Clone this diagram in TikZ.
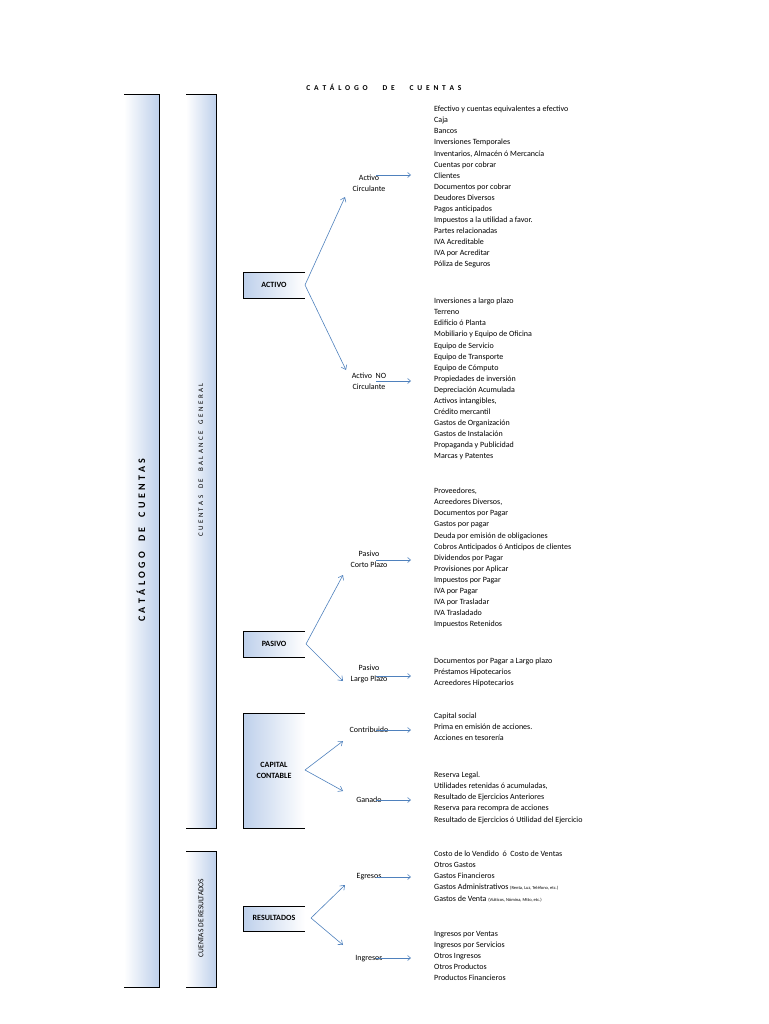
\documentclass[tikz,border=0pt]{standalone}
\usepackage{fontspec}
\setmainfont{Carlito}
\usetikzlibrary{arrows.meta}
\definecolor{bl}{RGB}{190,208,235}
\definecolor{ar}{RGB}{79,129,189}
\begin{document}
\begin{tikzpicture}[x=1pt,y=-1pt,
 lst/.style={anchor=north west,align=left,inner sep=0pt,font=\fontsize{8}{11.07}\selectfont},
 sub/.style={align=center,inner sep=1pt,font=\fontsize{8}{11}\selectfont},
 cat/.style={align=center,inner sep=0pt,font=\fontsize{8}{11}\selectfont\bfseries},
 arr/.style={draw=ar,-{Straight Barb[length=4pt,width=6pt]},line width=0.6pt},
 sarr/.style={draw=ar,-{Straight Barb[length=3pt,width=5pt]},line width=0.6pt}]
\useasboundingbox (0,0) rectangle (768,1024);
% left bars
\shade[left color=white,right color=bl] (124,95) rectangle (159,987);
\draw[line width=1pt] (124,95) -- (159,95) -- (159,987) -- (124,987);
\shade[left color=white,right color=bl] (186,95) rectangle (216,828);
\draw[line width=1pt] (186,95) -- (216,95) -- (216,828) -- (186,828);
\shade[left color=white,right color=bl] (186,851) rectangle (216,987);
\draw[line width=1pt] (186,851) -- (216,851) -- (216,987) -- (186,987);
\node[rotate=90,font=\fontsize{10}{12}\selectfont\bfseries] (t1) at (141,540) {C\,\,A\,\,T\,\,Á\,\,L\,\,O\,\,G\,\,O\quad D\,\,E\quad C\,\,U\,\,E\,\,N\,\,T\,\,A\,\,S};
\node[rotate=90,font=\fontsize{7}{9}\selectfont] (t2) at (201,460) {C\,\,U\,\,E\,\,N\,\,T\,\,A\,\,S\quad D\,\,E\quad B\,\,A\,\,L\,\,A\,\,N\,\,C\,\,E\quad G\,\,E\,\,N\,\,E\,\,R\,\,A\,\,L};
\node[rotate=90,font=\fontsize{7.5}{9}\selectfont] (t3) at (201,918) {CUENTAS DE RESULTADOS};
\node[font=\fontsize{7.5}{9}\selectfont\bfseries] (title) at (384,87) {C\,\,\,A\,\,\,T\,\,\,Á\,\,\,L\,\,\,O\,\,\,G\,\,\,O\qquad D\,\,\,E\qquad C\,\,\,U\,\,\,E\,\,\,N\,\,\,T\,\,\,A\,\,\,S};
% category boxes
\foreach \a/\b in {272/298,631/657,713/828,906/931}{
 \shade[left color=bl,right color=white] (243,\a) rectangle (305,\b);
 \draw[line width=1pt] (305,\a) -- (243,\a) -- (243,\b) -- (305,\b);}
\node[cat] (activo) at (274,285) {ACTIVO};
\node[cat] (pasivo) at (274,644) {PASIVO};
\node[cat] (capital) at (274,770) {CAPITAL\\CONTABLE};
\node[cat] (result) at (274,918) {RESULTADOS};
\coordinate (pa) at (305,285);
\coordinate (pp) at (306,644);
\coordinate (pc) at (305,770);
\coordinate (pr) at (311,918);
% sub nodes
\node[sub] (ac) at (369,183) {Activo\\Circulante};
\node[sub] (anc) at (369,381) {Activo\ \ NO\\Circulante};
\node[sub] (pcp) at (369,559) {Pasivo\\Corto Plazo};
\node[sub] (plp) at (369,674) {Pasivo\\Largo Plazo};
\node[sub] (con) at (369,730) {Contribuido};
\node[sub] (gan) at (369,800) {Ganado};
\node[sub] (egr) at (369,877) {Egresos};
\node[sub] (ing) at (369,959) {Ingresos};
\coordinate (e1) at (345,197); \coordinate (e2) at (346,370);
\coordinate (e3) at (343,575); \coordinate (e4) at (343,681);
\coordinate (e5) at (343,741); \coordinate (e6) at (343,791);
\coordinate (e7) at (345,885); \coordinate (e8) at (343,945);
\draw[arr] (pa) -- (e1); \draw[arr] (pa) -- (e2);
\draw[arr] (pp) -- (e3); \draw[arr] (pp) -- (e4);
\draw[arr] (pc) -- (e5); \draw[arr] (pc) -- (e6);
\draw[arr] (pr) -- (e7); \draw[arr] (pr) -- (e8);
% small arrows
\foreach \n/\y in {a/175,b/381,c/560,d/676,e/730,f/800,g/877,h/958}{
 \coordinate (s\n) at (376,\y); \coordinate (t\n) at (411,\y);
 \draw[sarr] (s\n) -- (t\n);}
% lists
\node[lst] (l1) at (434,106) {Efectivo y cuentas equivalentes a efectivo\\Caja\\Bancos\\Inversiones Temporales\\Inventarios, Almacén ó Mercancía\\Cuentas por cobrar\\Clientes\\Documentos por cobrar\\Deudores Diversos\\Pagos anticipados\\Impuestos a la utilidad a favor.\\Partes relacionadas\\IVA Acreditable\\IVA por Acreditar\\Póliza de Seguros};
\node[lst] (l2) at (434,298) {Inversiones a largo plazo\\Terreno\\Edificio ó Planta\\Mobiliario y Equipo de Oficina\\Equipo de Servicio\\Equipo de Transporte\\Equipo de Cómputo\\Propiedades de inversión\\Depreciación Acumulada\\Activos intangibles,\\Crédito mercantil\\Gastos de Organización\\Gastos de Instalación\\Propaganda y Publicidad\\Marcas y Patentes};
\node[lst] (l3) at (434,488) {Proveedores,\\Acreedores Diversos,\\Documentos por Pagar\\Gastos por pagar\\Deuda por emisión de obligaciones\\Cobros Anticipados ó Anticipos de clientes\\Dividendos por Pagar\\Provisiones por Aplicar\\Impuestos por Pagar\\IVA por Pagar\\IVA por Trasladar\\IVA Trasladado\\Impuestos Retenidos};
\node[lst] (l4) at (434,658) {Documentos por Pagar a Largo plazo\\Préstamos Hipotecarios\\Acreedores Hipotecarios};
\node[lst] (l5) at (434,713) {Capital social\\Prima en emisión de acciones.\\Acciones en tesorería};
\node[lst] (l6) at (434,772) {Reserva Legal.\\Utilidades retenidas ó acumuladas,\\Resultado de Ejercicios Anteriores\\Reserva para recompra de acciones\\Resultado de Ejercicios ó Utilidad del Ejercicio};
\node[lst] (l7) at (434,851) {Costo de lo Vendido\ \ ó\ \ Costo de Ventas\\Otros Gastos\\Gastos Financieros\\Gastos Administrativos {\fontsize{4.5}{5}\selectfont(Renta, Luz, Teléfono, etc.)}\\Gastos de Venta {\fontsize{4.5}{5}\selectfont(Viáticos, Nómina, Mtto, etc.)}};
\node[lst] (l8) at (434,931) {Ingresos por Ventas\\Ingresos por Servicios\\Otros Ingresos\\Otros Productos\\Productos Financieros};
\end{tikzpicture}
\end{document}
